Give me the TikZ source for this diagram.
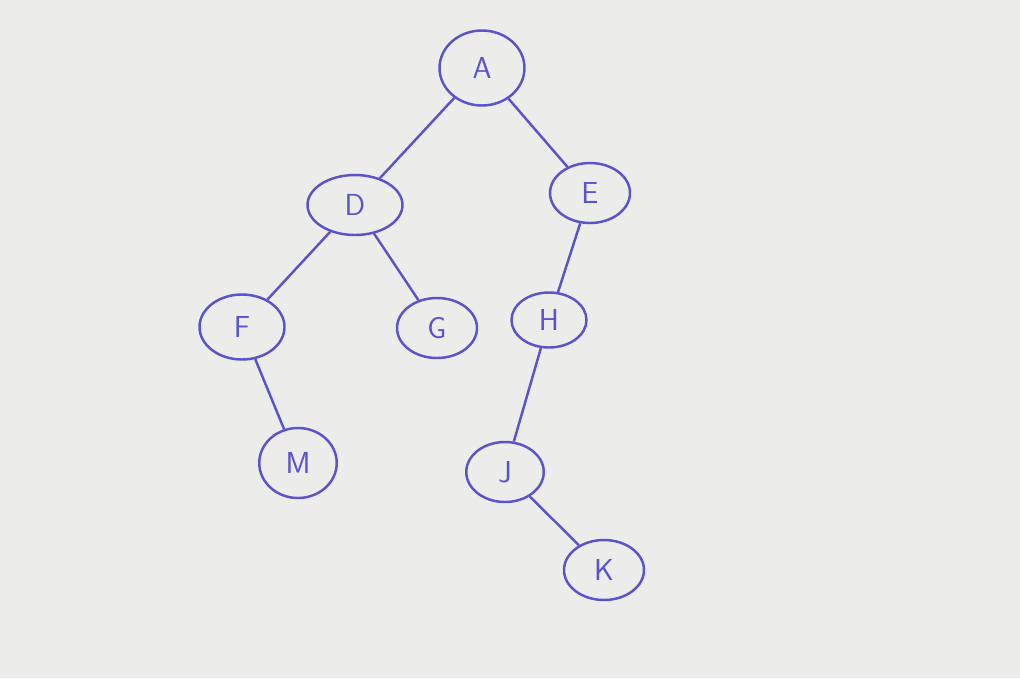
\documentclass[tikz,border=0pt]{standalone}
\usepackage{xcolor}
\usepackage{tikz}
\usetikzlibrary{shapes.geometric}
\definecolor{penblue}{RGB}{92,82,205}
\definecolor{paper}{RGB}{236,236,234}
\tikzset{
    vertex/.style={ellipse, draw=penblue, line width=1.4pt, text=penblue, font=\sffamily\LARGE, inner sep=0pt},
    branch/.style={penblue, line width=1.4pt}
}

\begin{document}
\begin{tikzpicture}
        \fill[paper] (0,0) rectangle (20.4,-13.56); % sheet
        \node[vertex, minimum width=1.7cm, minimum height=1.5cm] (A) at (9.64,-1.36) {A}; % root
        \node[vertex, minimum width=1.9cm, minimum height=1.2cm] (D) at (7.10,-4.10) {D};
        \node[vertex, minimum width=1.6cm, minimum height=1.2cm] (E) at (11.80,-3.86) {E};
        \node[vertex, minimum width=1.7cm, minimum height=1.3cm] (F) at (4.84,-6.54) {F};
        \node[vertex, minimum width=1.6cm, minimum height=1.2cm] (G) at (8.74,-6.56) {G};
        \node[vertex, minimum width=1.5cm, minimum height=1.1cm] (H) at (10.98,-6.40) {H};
        \node[vertex, minimum width=1.55cm, minimum height=1.4cm] (M) at (5.96,-9.26) {M};
        \node[vertex, minimum width=1.55cm, minimum height=1.2cm] (J) at (10.10,-9.44) {J};
        \node[vertex, minimum width=1.6cm, minimum height=1.2cm] (K) at (12.08,-11.40) {K};
        \draw[branch] (A) -- (D);
        \draw[branch] (A) -- (E);
        \draw[branch] (D) -- (F);
        \draw[branch] (D) -- (G);
        \draw[branch] (E) -- (H);
        \draw[branch] (F) -- (M);
        \draw[branch] (H) -- (J);
        \draw[branch] (J) -- (K);

    \end{tikzpicture}
\end{document}
